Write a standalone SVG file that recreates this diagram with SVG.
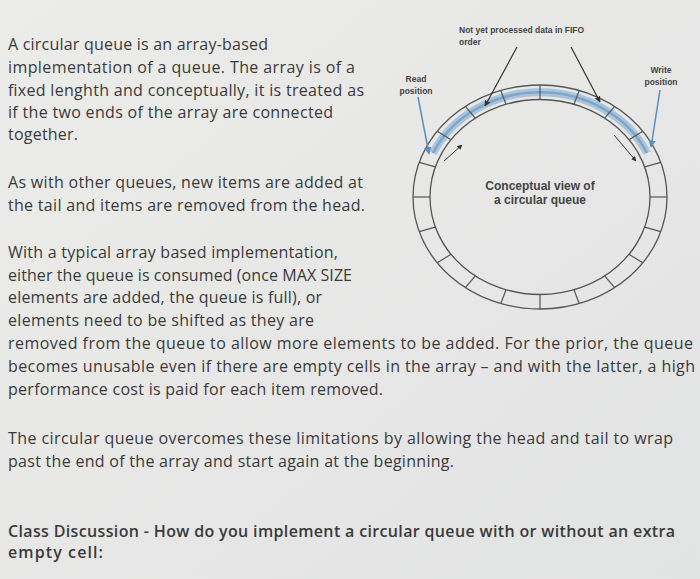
<svg xmlns="http://www.w3.org/2000/svg" width="700" height="579" viewBox="0 0 700 579">
<defs>
<linearGradient id="bg" x1="0" y1="0" x2="1" y2="1"><stop offset="0" stop-color="#ececea"/><stop offset="1" stop-color="#e2e3e3"/></linearGradient>
<marker id="ah" viewBox="0 0 10 10" refX="9" refY="5" markerWidth="5" markerHeight="5" orient="auto"><path d="M0,0L10,5L0,10z" fill="#333"/></marker>
<marker id="ab" viewBox="0 0 10 10" refX="9" refY="5" markerWidth="5" markerHeight="5" orient="auto"><path d="M0,0L10,5L0,10z" fill="#5b8fc0"/></marker>
</defs>
<style>
.t{font-family:"Open Sans","Liberation Sans",sans-serif;font-size:16px;fill:#3a3a3a}
.b{font-weight:600}
.d{font-family:"Liberation Sans",Arial,sans-serif;font-weight:bold;fill:#444}
.ring{fill:none;stroke:#555;stroke-width:1.3}
</style>
<rect width="700" height="579" fill="url(#bg)"/>
<g id="text">
<text class="t" x="8" y="50" textLength="260">A circular queue is an array-based</text>
<text class="t" x="8" y="73" textLength="347">implementation of a queue.  The array is of a</text>
<text class="t" x="8" y="96" textLength="356">fixed lenghth and conceptually, it is treated as</text>
<text class="t" x="8" y="118" textLength="325">if the two ends of the array are connected</text>
<text class="t" x="8" y="140" textLength="70">together.</text>
<text class="t" x="8" y="188" textLength="355">As with other queues, new items are added at</text>
<text class="t" x="8" y="211" textLength="357">the tail and items are removed from the head.</text>
<text class="t" x="8" y="258" textLength="330">With a typical array based implementation,</text>
<text class="t" x="8" y="281" textLength="344">either the queue is consumed (once MAX SIZE</text>
<text class="t" x="8" y="303" textLength="314">elements are added, the queue is full), or</text>
<text class="t" x="8" y="326" textLength="306">elements need to be shifted as they are</text>
<text class="t" x="8" y="349" textLength="685">removed from the queue to allow more elements to be added.  For the prior, the queue</text>
<text class="t" x="8" y="372" textLength="687">becomes unusable even if there are empty cells in the array – and with the latter, a high</text>
<text class="t" x="8" y="395" textLength="375">performance cost is paid for each item removed.</text>
<text class="t" x="8" y="444" textLength="665">The circular queue overcomes these limitations by allowing the head and tail to wrap</text>
<text class="t" x="8" y="467" textLength="446">past the end of the array and start again at the beginning.</text>
<text class="t b" x="8" y="537" textLength="667">Class Discussion  - How do you implement a circular queue with or without an extra</text>
<text class="t b" x="8" y="558" textLength="95">empty cell:</text>
</g>
<g id="queue">
<ellipse class="ring" cx="540" cy="197" rx="127" ry="112"/>
<ellipse class="ring" cx="540" cy="197" rx="110" ry="97.5"/>
<path d="M433,153 A118,105 0 0 1 647,153" fill="none" stroke="#a9c4dc" stroke-width="8"/>
<path d="M433,153 A118,105 0 0 1 647,153" fill="none" stroke="#7fa6c8" stroke-width="2.5"/>
<g stroke="#555" stroke-width="1.2">
<line x1="540" y1="99.5" x2="540" y2="85"/>
<line x1="574" y1="104.3" x2="579.2" y2="90.5"/>
<line x1="604.7" y1="118.1" x2="614.6" y2="106.4"/>
<line x1="629" y1="139.7" x2="642.7" y2="131.2"/>
<line x1="644.6" y1="166.9" x2="660.8" y2="162.4"/>
<line x1="650" y1="197" x2="667" y2="197"/>
<line x1="644.6" y1="227.1" x2="660.8" y2="231.6"/>
<line x1="629" y1="254.3" x2="642.7" y2="262.8"/>
<line x1="604.7" y1="275.9" x2="614.6" y2="287.6"/>
<line x1="574" y1="289.7" x2="579.2" y2="303.5"/>
<line x1="540" y1="294.5" x2="540" y2="309"/>
<line x1="506" y1="289.7" x2="500.8" y2="303.5"/>
<line x1="475.3" y1="275.9" x2="465.4" y2="287.6"/>
<line x1="451" y1="254.3" x2="437.3" y2="262.8"/>
<line x1="435.4" y1="227.1" x2="419.2" y2="231.6"/>
<line x1="430" y1="197" x2="413" y2="197"/>
<line x1="435.4" y1="166.9" x2="419.2" y2="162.4"/>
<line x1="451" y1="139.7" x2="437.3" y2="131.2"/>
<line x1="475.3" y1="118.1" x2="465.4" y2="106.4"/>
<line x1="506" y1="104.3" x2="500.8" y2="90.5"/>
</g>
<text class="d" x="540" y="190" font-size="12" text-anchor="middle">Conceptual view of</text>
<text class="d" x="540" y="204" font-size="12" text-anchor="middle">a circular queue</text>
</g>
<g id="labels">
<text class="d" x="459" y="33" font-size="8.5">Not yet processed data in FIFO</text>
<text class="d" x="459" y="45" font-size="8.5">order</text>
<text class="d" x="416" y="82" font-size="8.5" text-anchor="middle">Read</text>
<text class="d" x="416" y="94" font-size="8.5" text-anchor="middle">position</text>
<text class="d" x="661" y="73" font-size="8.5" text-anchor="middle">Write</text>
<text class="d" x="661" y="85" font-size="8.5" text-anchor="middle">position</text>
</g>
<g id="connectors" fill="none">
<line x1="517" y1="47" x2="485" y2="106" stroke="#333" stroke-width="1.2" marker-end="url(#ah)"/>
<line x1="571" y1="47" x2="600" y2="102" stroke="#333" stroke-width="1.2" marker-end="url(#ah)"/>
<line x1="418" y1="97" x2="429" y2="154" stroke="#5b8fc0" stroke-width="1.5" marker-end="url(#ab)"/>
<line x1="660" y1="90" x2="651" y2="147" stroke="#5b8fc0" stroke-width="1.5" marker-end="url(#ab)"/>
<line x1="444" y1="161" x2="462" y2="145" stroke="#333" stroke-width="1" marker-end="url(#ah)"/>
<line x1="614" y1="135" x2="636" y2="161" stroke="#333" stroke-width="1" marker-end="url(#ah)"/>
</g>
</svg>
